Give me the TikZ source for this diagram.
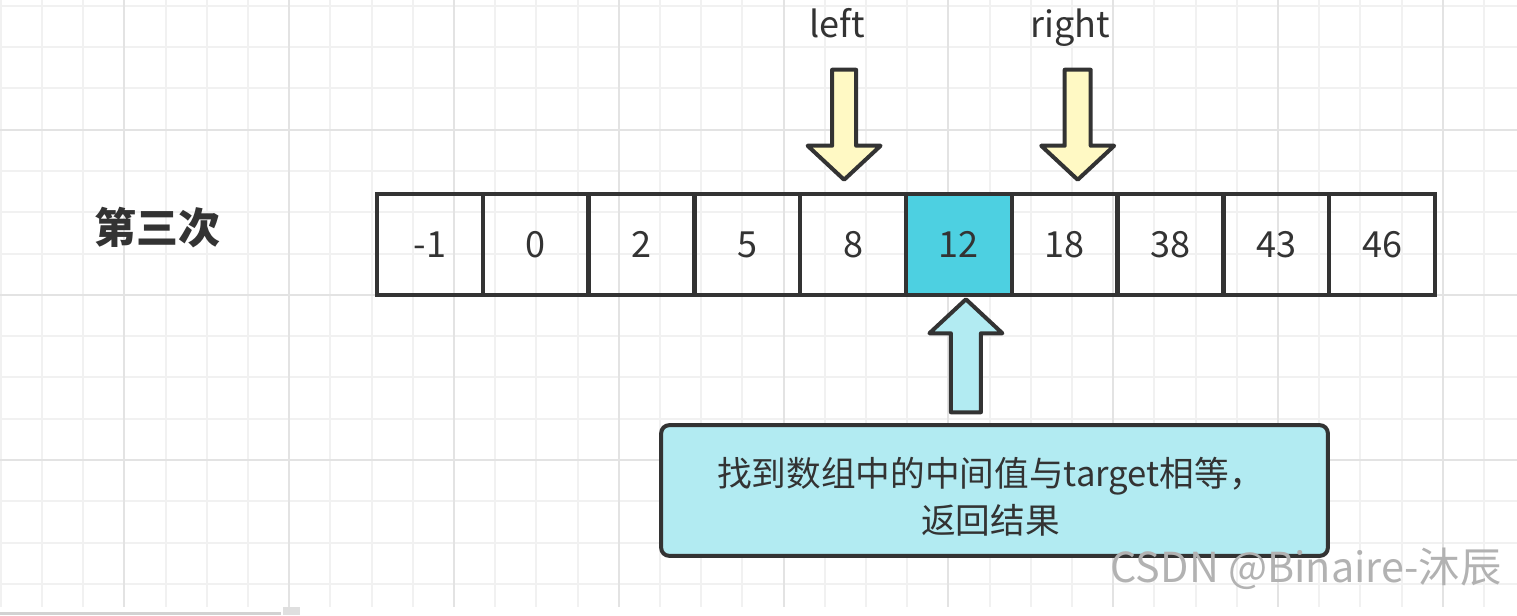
\documentclass[tikz,border=0pt]{standalone}
\usepackage{fontspec}
\setmainfont{Noto Sans CJK SC}
\usetikzlibrary{calc}
\definecolor{ink}{HTML}{333333}
\definecolor{gridminor}{HTML}{F1F1F1}
\definecolor{gridmajor}{HTML}{E3E3E3}
\definecolor{hitcyan}{HTML}{4DD0E1}
\definecolor{paleyellow}{HTML}{FFF9C4}
\definecolor{palecyan}{HTML}{B2EBF2}

\begin{document}
\begin{tikzpicture}[
    x=0.75pt, y=-0.75pt,
    cell/.style={rectangle, draw=ink, line width=3.4pt, minimum width=79.35pt, minimum height=75.75pt, inner sep=0pt, text=ink, font=\fontsize{27}{32}\selectfont},
    hit/.style={cell, fill=hitcyan},
    ptrlabel/.style={anchor=base, text=ink, font=\fontsize{27}{32}\selectfont},
    downarrow/.style={draw=ink, fill=paleyellow, line width=3pt, line join=round},
    uparrow/.style={draw=ink, fill=palecyan, line width=3pt, line join=round},
    msgbox/.style={rectangle, rounded corners=6pt, draw=ink, fill=palecyan, line width=3pt, minimum width=500pt, minimum height=98pt},
    msgtext/.style={align=center, text=ink, font=\fontsize{26}{35}\selectfont},
    minorline/.style={gridminor, line width=1.5pt},
    majorline/.style={gridmajor, line width=1.5pt}
]
\useasboundingbox (0,0) rectangle (1517,615);
\fill[white] (0,0) rectangle (1517,615);

% background grid
\foreach \k in {0,...,36}
    \draw[minorline] ({0.8+41.2*\k},0) -- ({0.8+41.2*\k},607);
\foreach \k in {0,...,14}
    \draw[minorline] (0,{5.7+41.3*\k}) -- (1517,{5.7+41.3*\k});
\foreach \k in {3,7,...,35}
    \draw[majorline] ({0.8+41.2*\k},0) -- ({0.8+41.2*\k},607);
\foreach \k in {3,7,11}
    \draw[majorline] (0,{5.7+41.3*\k}) -- (1517,{5.7+41.3*\k});

% the array
\node[font=\bfseries\fontsize{31.5}{36}\selectfont, text=ink] (pass3) at (157,228) {第三次};
\foreach \v [count=\i] in {-1,0,2,5,8,12,18,38,43,46} {
    \ifnum\i=6 \def\cellsty{hit}\else\def\cellsty{cell}\fi
    \node[\cellsty] (c\i) at ({377+105.8*(\i-0.5)},244.5) {\v};
}

% pointers
\node[ptrlabel] (left) at (837,37) {left};
\node[ptrlabel] (right) at (1070,37) {right};
\coordinate (ltip) at ($(c5.north)+(-9,-12)$);
\coordinate (rtip) at ($(c7.north)+(13,-12)$);
\draw[downarrow] (ltip) -- ++(36.5,-34) -- ++(-24.5,0) -- ++(0,-76) -- ++(-24,0) -- ++(0,76) -- ++(-24.5,0) -- cycle;
\draw[downarrow] (rtip) -- ++(36.5,-34) -- ++(-23.5,0) -- ++(0,-76) -- ++(-26,0) -- ++(0,76) -- ++(-23.5,0) -- cycle;

% result
\node[msgbox] (msg) at (994.5,490.5) {};
\node[msgtext] (msgtxt) at ($(msg.center)+(-4,6)$) {找到数组中的中间值与target相等，\\返回结果};
\coordinate (utip) at ($(c6.south)+(7,2)$);
\draw[uparrow] (utip) -- ++(36.5,34) -- ++(-21.5,0) -- ++(0,79) -- ++(-30,0) -- ++(0,-79) -- ++(-21.5,0) -- cycle;

% watermark and scroll bar
\node[anchor=west, text=gray!60, font=\fontsize{31}{36}\selectfont] (mark) at (1106,569) {CSDN @Binaire-沐辰};
\fill[gray!35] (0,612) rectangle (281,615);
\fill[gray!25] (283,607) rectangle (300,615);
\end{tikzpicture}
\end{document}
